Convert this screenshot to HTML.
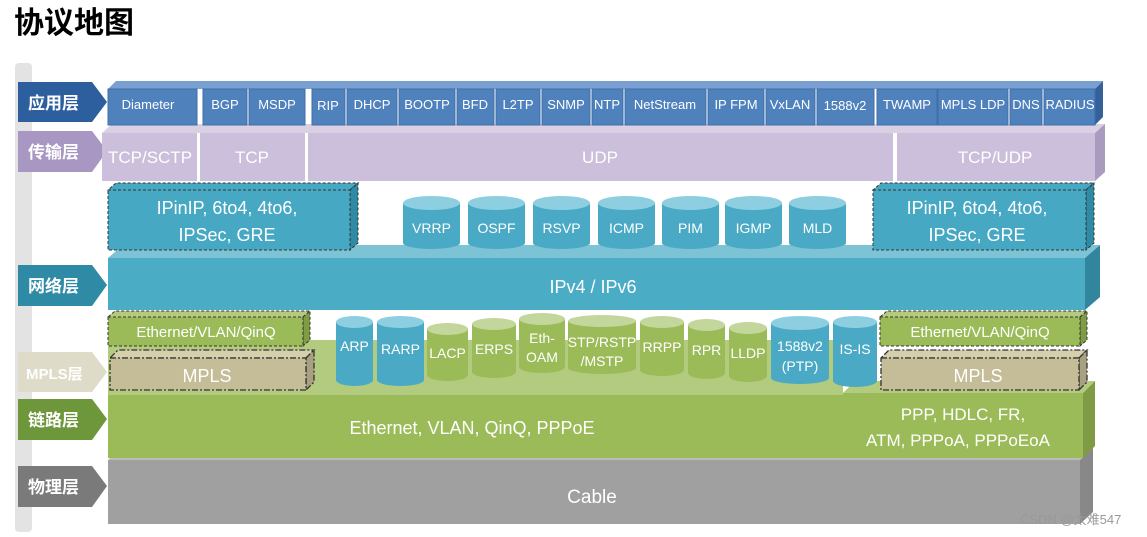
<!DOCTYPE html>
<html><head><meta charset="utf-8"><style>
html,body{margin:0;padding:0;background:#fff;width:1147px;height:537px;overflow:hidden}
svg text{font-family:"Liberation Sans","Noto Sans CJK SC",sans-serif}
</style></head><body>
<svg width="1147" height="537" viewBox="0 0 1147 537" xmlns="http://www.w3.org/2000/svg">
<text x="14" y="33" font-size="30" font-weight="bold" fill="#000">协议地图</text>
<rect x="15" y="63" width="17" height="469" rx="4" fill="#e3e3e3"/>

<g font-size="17" font-weight="bold" fill="#fff">
<polygon points="18,82 92,82 107,102 92,122 18,122" fill="#2d5f9e"/><text x="28" y="109">应用层</text>
<polygon points="18,131 92,131 107,151 92,172 18,172" fill="#a797c2"/><text x="28" y="158">传输层</text>
<polygon points="18,265 92,265 107,285 92,306 18,306" fill="#2f8ba5"/><text x="28" y="292">网络层</text>
<polygon points="18,352 92,352 107,372 92,392 18,392" fill="#dedbc9"/><text x="26" y="379" font-size="15">MPLS层</text>
<polygon points="18,399 92,399 107,419 92,440 18,440" fill="#6e963a"/><text x="28" y="426">链路层</text>
<polygon points="18,466 92,466 107,486 92,507 18,507" fill="#7a7a7a"/><text x="28" y="493">物理层</text>
</g>

<polygon points="108,460 1080,460 1093,448 121,448" fill="#bcbcbc"/>
<polygon points="1080,460 1093,448 1093,512 1080,524" fill="#888"/>
<rect x="108" y="460" width="972" height="64" fill="#a0a0a0"/>
<text x="592" y="503" font-size="19" fill="#fff" text-anchor="middle">Cable</text>

<rect x="108" y="340" width="735" height="56" fill="#b3cb7f"/>
<rect x="108" y="395" width="735" height="63" fill="#9bbb59"/>
<text x="472" y="434" font-size="18" fill="#fff" text-anchor="middle">Ethernet,  VLAN,  QinQ,  PPPoE</text>
<polygon points="843,393 1083,393 1095,381 855,381" fill="#b3cb7f"/>
<polygon points="1083,393 1095,381 1095,446 1083,458" fill="#7f9c45"/>
<rect x="843" y="393" width="240" height="65" fill="#9bbb59"/>
<text x="963" y="420" font-size="17" fill="#fff" text-anchor="middle">PPP,  HDLC,   FR,</text>
<text x="958" y="446" font-size="17" fill="#fff" text-anchor="middle">ATM,  PPPoA,  PPPoEoA</text>

<g stroke="#333" stroke-width="1" stroke-dasharray="3,2">
<polygon points="108,317 303,317 310,311 115,311" fill="#b3cb7f"/>
<polygon points="303,317 310,311 310,340 303,346" fill="#7f9c45"/>
<rect x="108" y="317" width="195" height="29" fill="#9bbb59"/>
<polygon points="880,317 1080,317 1087,311 887,311" fill="#b3cb7f"/>
<polygon points="1080,317 1087,311 1087,340 1080,346" fill="#7f9c45"/>
<rect x="880" y="317" width="200" height="29" fill="#9bbb59"/>
</g>
<g fill="#fff" font-size="15" text-anchor="middle"><text x="206" y="337">Ethernet/VLAN/QinQ</text><text x="980" y="337">Ethernet/VLAN/QinQ</text></g>
<g stroke="#333" stroke-width="1.3" stroke-dasharray="6,2,2,2">
<polygon points="110,358 306,358 314,350 118,350" fill="#d5cfae"/>
<polygon points="306,358 314,350 314,382 306,390" fill="#a8a080"/>
<rect x="110" y="358" width="196" height="32" fill="#c4bd97"/>
<polygon points="881,358 1079,358 1087,350 889,350" fill="#d5cfae"/>
<polygon points="1079,358 1087,350 1087,382 1079,390" fill="#a8a080"/>
<rect x="881" y="358" width="198" height="32" fill="#c4bd97"/>
</g>
<g fill="#fff" font-size="18" text-anchor="middle"><text x="207" y="382">MPLS</text><text x="978" y="382">MPLS</text></g>

<polygon points="108,258 1085,258 1100,245 123,245" fill="#7cc3d6"/>
<polygon points="1085,258 1100,245 1100,297 1085,310" fill="#31869d"/>
<rect x="108" y="258" width="977" height="52" fill="#4bacc6"/>
<text x="593" y="293" font-size="18" fill="#fff" text-anchor="middle">IPv4 / IPv6</text>

<g stroke="#333" stroke-width="1" stroke-dasharray="3,2">
<polygon points="108,190 350,190 358,183 116,183" fill="#47a8c4"/>
<polygon points="350,190 358,183 358,243 350,250" fill="#2f8aa3"/>
<rect x="108" y="190" width="242" height="60" fill="#47a8c4"/>
<polygon points="873,190 1086,190 1094,183 881,183" fill="#47a8c4"/>
<polygon points="1086,190 1094,183 1094,243 1086,250" fill="#2f8aa3"/>
<rect x="873" y="190" width="213" height="60" fill="#47a8c4"/>
</g>
<g fill="#fff" font-size="18" text-anchor="middle">
<text x="227" y="214">IPinIP,  6to4,  4to6,</text><text x="227" y="241">IPSec,  GRE</text>
<text x="977" y="214">IPinIP,  6to4,  4to6,</text><text x="977" y="241">IPSec,  GRE</text>
</g>

<g font-size="14" fill="#fff" text-anchor="middle">
<g>
<rect x="403" y="203" width="57" height="40" fill="#4aaac6"/><ellipse cx="431.5" cy="243" rx="28.5" ry="6" fill="#4aaac6"/><ellipse cx="431.5" cy="203" rx="28.5" ry="7" fill="#8dcfe0"/><text x="431.5" y="233">VRRP</text>
<rect x="468" y="203" width="57" height="40" fill="#4aaac6"/><ellipse cx="496.5" cy="243" rx="28.5" ry="6" fill="#4aaac6"/><ellipse cx="496.5" cy="203" rx="28.5" ry="7" fill="#8dcfe0"/><text x="496.5" y="233">OSPF</text>
<rect x="533" y="203" width="57" height="40" fill="#4aaac6"/><ellipse cx="561.5" cy="243" rx="28.5" ry="6" fill="#4aaac6"/><ellipse cx="561.5" cy="203" rx="28.5" ry="7" fill="#8dcfe0"/><text x="561.5" y="233">RSVP</text>
<rect x="598" y="203" width="57" height="40" fill="#4aaac6"/><ellipse cx="626.5" cy="243" rx="28.5" ry="6" fill="#4aaac6"/><ellipse cx="626.5" cy="203" rx="28.5" ry="7" fill="#8dcfe0"/><text x="626.5" y="233">ICMP</text>
<rect x="662" y="203" width="57" height="40" fill="#4aaac6"/><ellipse cx="690.5" cy="243" rx="28.5" ry="6" fill="#4aaac6"/><ellipse cx="690.5" cy="203" rx="28.5" ry="7" fill="#8dcfe0"/><text x="690.5" y="233">PIM</text>
<rect x="725" y="203" width="57" height="40" fill="#4aaac6"/><ellipse cx="753.5" cy="243" rx="28.5" ry="6" fill="#4aaac6"/><ellipse cx="753.5" cy="203" rx="28.5" ry="7" fill="#8dcfe0"/><text x="753.5" y="233">IGMP</text>
<rect x="789" y="203" width="57" height="40" fill="#4aaac6"/><ellipse cx="817.5" cy="243" rx="28.5" ry="6" fill="#4aaac6"/><ellipse cx="817.5" cy="203" rx="28.5" ry="7" fill="#8dcfe0"/><text x="817.5" y="233">MLD</text>
</g>
<g>
<rect x="336" y="322" width="37" height="58" fill="#4aaac6"/><ellipse cx="354.5" cy="380" rx="18.5" ry="6" fill="#4aaac6"/><ellipse cx="354.5" cy="322" rx="18.5" ry="6" fill="#8dcfe0"/><text x="354.5" y="351">ARP</text>
<rect x="377" y="322" width="47" height="58" fill="#4aaac6"/><ellipse cx="400.5" cy="380" rx="23.5" ry="6" fill="#4aaac6"/><ellipse cx="400.5" cy="322" rx="23.5" ry="6" fill="#8dcfe0"/><text x="400.5" y="354">RARP</text>
<rect x="427" y="329" width="41" height="46" fill="#9bbb59"/><ellipse cx="447.5" cy="375" rx="20.5" ry="6" fill="#9bbb59"/><ellipse cx="447.5" cy="329" rx="20.5" ry="6" fill="#c3d69b"/><text x="447.5" y="358">LACP</text>
<rect x="472" y="324" width="44" height="48" fill="#9bbb59"/><ellipse cx="494" cy="372" rx="22" ry="6" fill="#9bbb59"/><ellipse cx="494" cy="324" rx="22" ry="6" fill="#c3d69b"/><text x="494" y="354">ERPS</text>
<rect x="519" y="319" width="46" height="48" fill="#9bbb59"/><ellipse cx="542" cy="367" rx="23" ry="6" fill="#9bbb59"/><ellipse cx="542" cy="319" rx="23" ry="6" fill="#c3d69b"/><text x="542" y="343">Eth-</text><text x="542" y="362">OAM</text>
<rect x="568" y="321" width="68" height="47" fill="#9bbb59"/><ellipse cx="602" cy="368" rx="34" ry="6" fill="#9bbb59"/><ellipse cx="602" cy="321" rx="34" ry="6" fill="#c3d69b"/><text x="602" y="347">STP/RSTP</text><text x="602" y="366">/MSTP</text>
<rect x="640" y="322" width="44" height="48" fill="#9bbb59"/><ellipse cx="662" cy="370" rx="22" ry="6" fill="#9bbb59"/><ellipse cx="662" cy="322" rx="22" ry="6" fill="#c3d69b"/><text x="662" y="352">RRPP</text>
<rect x="688" y="325" width="37" height="48" fill="#9bbb59"/><ellipse cx="706.5" cy="373" rx="18.5" ry="6" fill="#9bbb59"/><ellipse cx="706.5" cy="325" rx="18.5" ry="6" fill="#c3d69b"/><text x="706.5" y="355">RPR</text>
<rect x="729" y="328" width="38" height="48" fill="#9bbb59"/><ellipse cx="748" cy="376" rx="19" ry="6" fill="#9bbb59"/><ellipse cx="748" cy="328" rx="19" ry="6" fill="#c3d69b"/><text x="748" y="358">LLDP</text>
<rect x="771" y="323" width="58" height="55" fill="#4aaac6"/><ellipse cx="800" cy="378" rx="29" ry="6" fill="#4aaac6"/><ellipse cx="800" cy="323" rx="29" ry="7" fill="#8dcfe0"/><text x="800" y="351">1588v2</text><text x="800" y="371">(PTP)</text>
<rect x="833" y="322" width="44" height="59" fill="#4aaac6"/><ellipse cx="855" cy="381" rx="22" ry="6" fill="#4aaac6"/><ellipse cx="855" cy="322" rx="22" ry="6" fill="#8dcfe0"/><text x="855" y="354">IS-IS</text>
</g>
</g>

<g>
<polygon points="102,133 1095,133 1105,124 112,124" fill="#d9d0e4"/>
<polygon points="1095,133 1105,124 1105,172 1095,181" fill="#a99bbd"/>
<rect x="102" y="133" width="95" height="48" fill="#cbbfdb"/>
<rect x="200" y="133" width="105" height="48" fill="#cbbfdb"/>
<rect x="308" y="133" width="585" height="48" fill="#cbbfdb"/>
<rect x="897" y="133" width="198" height="48" fill="#cbbfdb"/>
<g fill="#fff" font-size="17" text-anchor="middle">
<text x="150" y="163">TCP/SCTP</text><text x="252" y="163">TCP</text><text x="600" y="163">UDP</text><text x="995" y="163">TCP/UDP</text>
</g>
</g>

<g>
<polygon points="108,89 1095,89 1103,81 116,81" fill="#7aa0d2"/>
<polygon points="1095,89 1103,81 1103,117 1095,125" fill="#36609a"/>
<g fill="#4f81bd" stroke="#3f6ea8" stroke-width="1">
<rect x="108" y="89" width="89" height="36"/><rect x="203" y="89" width="44" height="36"/><rect x="249" y="89" width="56" height="36"/>
<rect x="312" y="89" width="33" height="36"/><rect x="347" y="89" width="50" height="36"/><rect x="399" y="89" width="56" height="36"/>
<rect x="457" y="89" width="37" height="36"/><rect x="496" y="89" width="44" height="36"/><rect x="542" y="89" width="48" height="36"/>
<rect x="592" y="89" width="31" height="36"/><rect x="625" y="89" width="81" height="36"/><rect x="708" y="89" width="56" height="36"/>
<rect x="766" y="89" width="49" height="36"/><rect x="817" y="89" width="57" height="36"/><rect x="877" y="89" width="60" height="36"/>
<rect x="938" y="89" width="70" height="36"/><rect x="1010" y="89" width="32" height="36"/><rect x="1044" y="89" width="51" height="36"/>
</g>
<g fill="#fff" font-size="13" text-anchor="middle">
<text x="148" y="109">Diameter</text><text x="225" y="109">BGP</text><text x="277" y="109">MSDP</text>
<text x="328" y="110">RIP</text><text x="372" y="109">DHCP</text><text x="427" y="109">BOOTP</text>
<text x="475" y="109">BFD</text><text x="518" y="109">L2TP</text><text x="566" y="109">SNMP</text>
<text x="607" y="109">NTP</text><text x="665" y="109">NetStream</text><text x="736" y="109">IP FPM</text>
<text x="790" y="109">VxLAN</text><text x="845" y="110">1588v2</text><text x="907" y="109">TWAMP</text>
<text x="973" y="109">MPLS LDP</text><text x="1026" y="109">DNS</text><text x="1070" y="109">RADIUS</text>
</g>
</g>

<text x="1020" y="524" font-size="13" fill="#999">CSDN @太难547</text>
</svg>
</body></html>
